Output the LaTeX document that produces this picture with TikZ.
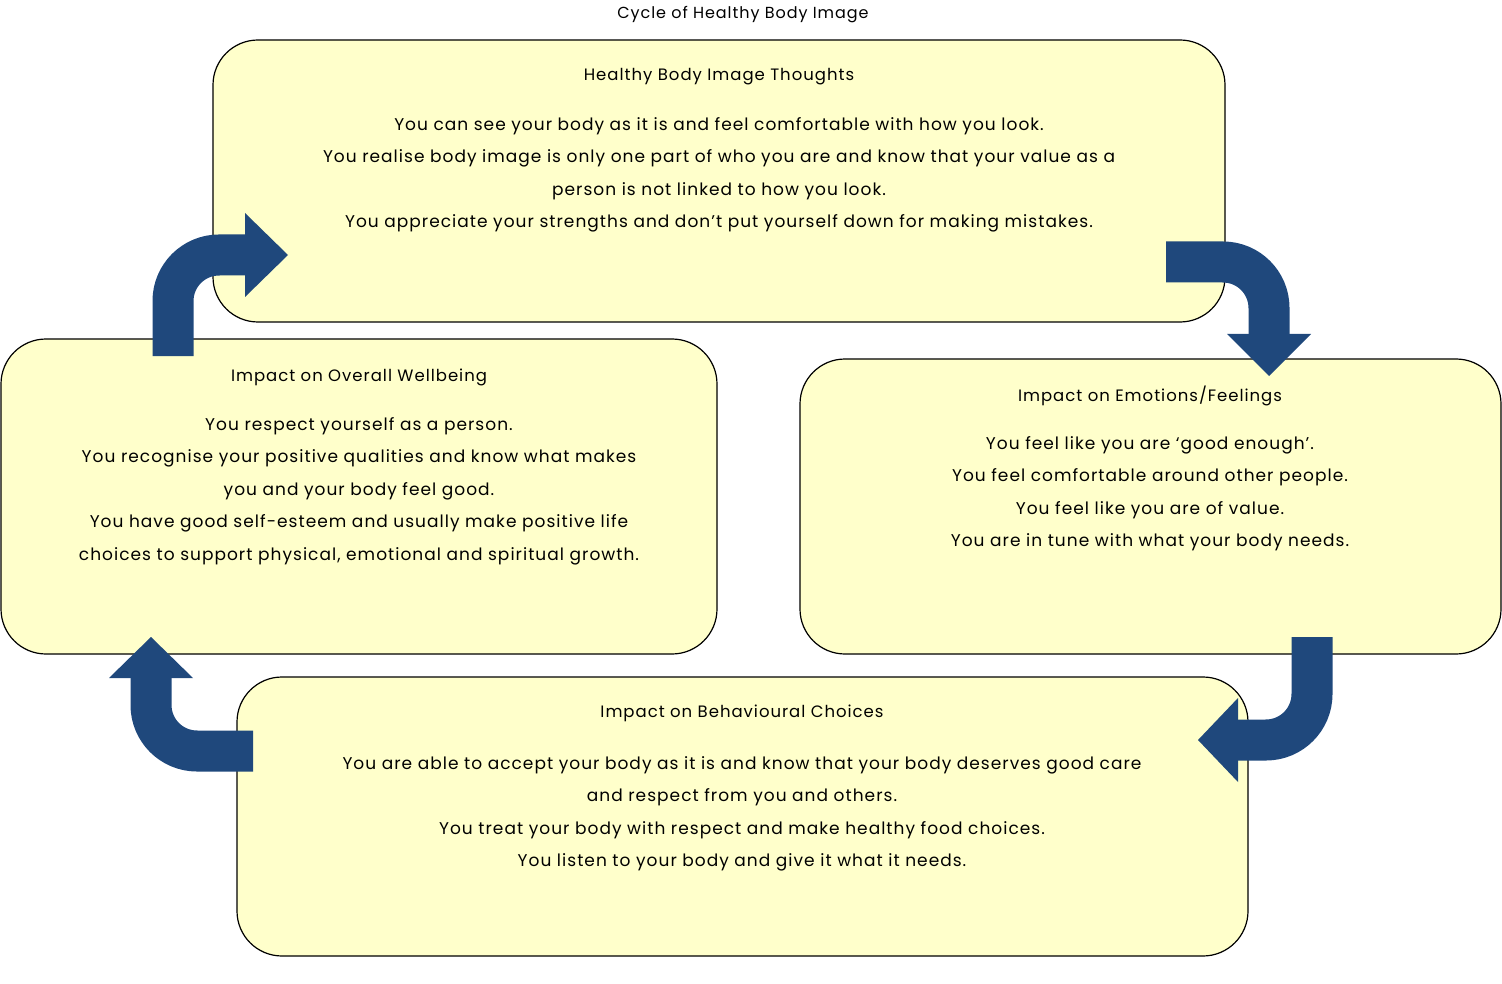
\documentclass[tikz,border=0pt]{standalone}
\usepackage{fontspec}
\setmainfont{Poppins}
\newfontfamily\bodyfont{Poppins}[LetterSpace=6]
\begin{document}
\begin{tikzpicture}[x=1pt,y=-1pt,
  box/.style={draw=black,line width=1.2pt,fill=boxy,rounded corners=45pt},
  head/.style={font=\bodyfont\fontsize{16.5}{20}\selectfont},
  body/.style={font=\bodyfont\fontsize{17}{32.5}\selectfont,align=center,anchor=north,inner sep=0pt},
  arr/.style={draw=arrowblue,line width=41pt,rounded corners=46pt},
  tip/.style={fill=arrowblue}]
\definecolor{boxy}{HTML}{FFFFCB}
\definecolor{arrowblue}{HTML}{1F487C}
\useasboundingbox (0,0) rectangle (1502,984);
\node[font=\bodyfont\fontsize{16}{19}\selectfont] (title) at (743,15) {Cycle of Healthy Body Image};
% boxes
\path[box] (213,40) rectangle (1225,322);
\path[box] (1,339) rectangle (717,654);
\path[box] (800,359) rectangle (1501,654);
\path[box] (237,677) rectangle (1248,956);
% texts
\node[head] (h1) at (719,77) {Healthy Body Image Thoughts};
\node[body] (t1) at (719,117) {You can see your body as it is and feel comfortable with how you look.\\
You realise body image is only one part of who you are and know that your value as a\\
person is not linked to how you look.\\
You appreciate your strengths and don’t put yourself down for making mistakes.};
\node[head] (h2) at (359,377) {Impact on Overall Wellbeing};
\node[body] (t2) at (359,417) {You respect yourself as a person.\\
You recognise your positive qualities and know what makes\\
you and your body feel good.\\
You have good self-esteem and usually make positive life\\
choices to support physical, emotional and spiritual growth.};
\node[head] (h3) at (1150,396) {Impact on Emotions/Feelings};
\node[body] (t3) at (1150,436) {You feel like you are ‘good enough’.\\
You feel comfortable around other people.\\
You feel like you are of value.\\
You are in tune with what your body needs.};
\node[head] (h4) at (742,713) {Impact on Behavioural Choices};
\node[body] (t4) at (742,756) {You are able to accept your body as it is and know that your body deserves good care\\
and respect from you and others.\\
You treat your body with respect and make healthy food choices.\\
You listen to your body and give it what it needs.};
% arrows
\coordinate (a1s) at (173,356); \coordinate (a1e) at (246,255);
\draw[arr] (a1s) -- (173,255) -- (a1e);
\fill[tip] (245,213) -- (288,255) -- (245,297) -- cycle;
\coordinate (a2s) at (1166,262); \coordinate (a2e) at (1269,335);
\draw[arr] (a2s) -- (1269,262) -- (a2e);
\fill[tip] (1227,334) -- (1269,376) -- (1311,334) -- cycle;
\coordinate (a3s) at (1312,637); \coordinate (a3e) at (1237,740);
\draw[arr] (a3s) -- (1312,740) -- (a3e);
\fill[tip] (1238,698) -- (1198,740) -- (1238,782) -- cycle;
\coordinate (a4s) at (253,751); \coordinate (a4e) at (151,677);
\draw[arr] (a4s) -- (151,751) -- (a4e);
\fill[tip] (109,678) -- (151,637) -- (193,678) -- cycle;
\end{tikzpicture}
\end{document}
